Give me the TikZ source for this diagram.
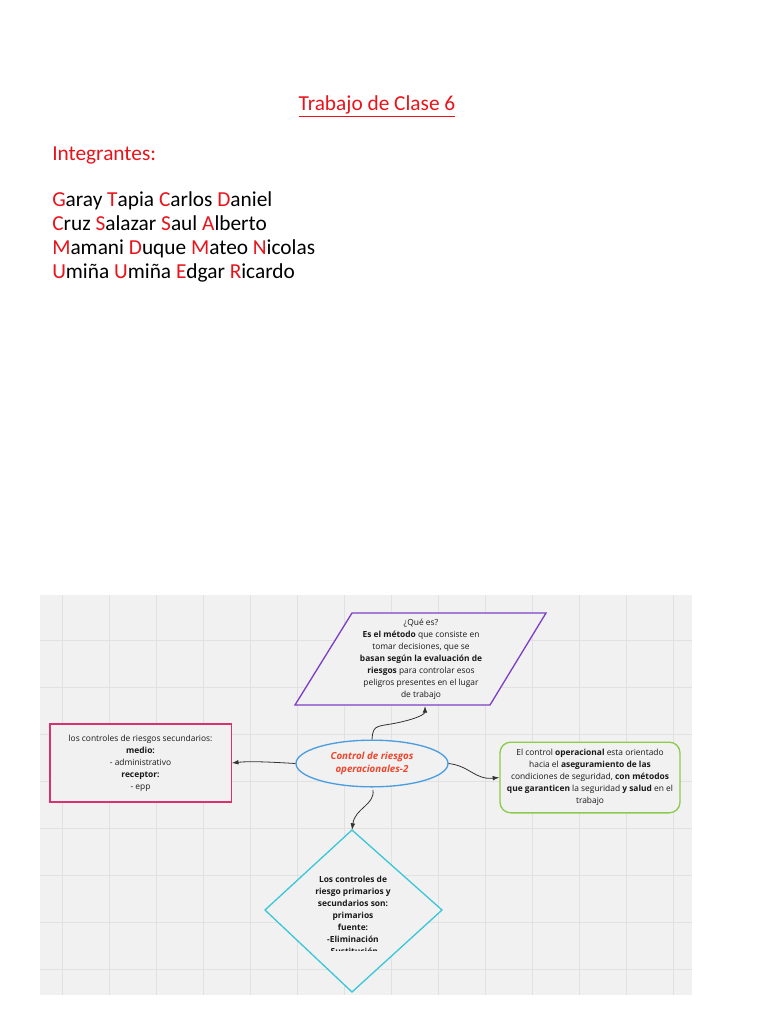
\documentclass[tikz,border=0pt]{standalone}
\usepackage{fontspec}
\setmainfont{Carlito}
\newfontfamily\diag{Open Sans}
\usetikzlibrary{shapes.geometric,arrows.meta}
\definecolor{tred}{HTML}{E8141B}
\definecolor{bgg}{HTML}{F1F1F1}
\definecolor{gridc}{HTML}{E1E1E1}
\definecolor{purp}{HTML}{7E3FC6}
\definecolor{pinkc}{HTML}{D8336E}
\definecolor{greenc}{HTML}{8CCB4E}
\definecolor{bluec}{HTML}{4A9EE0}
\definecolor{cyanc}{HTML}{3CC8D8}
\definecolor{ored}{HTML}{F0452C}
\begin{document}
\begin{tikzpicture}[x=0.75pt,y=-0.75pt,
  dtext/.style={font=\diag\fontsize{6.3}{9}\selectfont, align=center, text=black!90},
  conn/.style={-{Latex[length=5pt,width=3.5pt]}, line width=0.6pt, black!80},
  ttl/.style={font=\fontsize{16}{18}\selectfont, anchor=base west, inner sep=0pt}]
\useasboundingbox (0,0) rectangle (768,1024);
\fill[white] (0,0) rectangle (768,1024);
% title
\node[font=\fontsize{16}{18}\selectfont, text=tred, inner sep=0pt] (title) at (377,106) {\underline{Trabajo de Clase 6}};
\node[ttl, text=tred] (integ) at (52,160) {Integrantes:};
\newcommand{\R}[1]{\textcolor{tred}{#1}}
\node[ttl] (n1) at (52,206) {\R{G}aray \R{T}apia \R{C}arlos \R{D}aniel};
\node[ttl] (n2) at (52,230) {\R{C}ruz \R{S}alazar \R{S}aul \R{A}lberto};
\node[ttl] (n3) at (52,254) {\R{M}amani \R{D}uque \R{M}ateo \R{N}icolas};
\node[ttl] (n4) at (52,278) {\R{U}miña \R{U}miña \R{E}dgar \R{R}icardo};
% diagram background
\fill[bgg] (40,595) rectangle (692,995);
\foreach \x in {62,109,156,203,250,297,344,391,438,485,532,579,626,673}
  \draw[gridc, line width=0.5pt] (\x,595) -- (\x,995);
\foreach \y in {640,687,734,781,828,875,922,969}
  \draw[gridc, line width=0.5pt] (40,\y) -- (692,\y);
% parallelogram
\draw[purp, line width=1pt, fill=bgg] (352,613) -- (546,613) -- (490,705) -- (295,705) -- cycle;
\coordinate (pb) at (425,706);
\node[dtext] (qe) at (421,659) {¿Qué es?\\\textbf{Es el método} que consiste en\\tomar decisiones, que se\\\textbf{basan según la evaluación de}\\\textbf{riesgos} para controlar esos\\peligros presentes en el lugar\\de trabajo};
% pink rect
\node[draw=pinkc, line width=1pt, fill=bgg, minimum width=136pt, minimum height=58.5pt, dtext] (sec) at (140.5,763) {los controles de riesgos secundarios:\\\textbf{medio:}\\- administrativo\\\textbf{receptor:}\\- epp};
% ellipse
\node[draw=bluec, ellipse, line width=1pt, fill=bgg, minimum width=114pt, minimum height=35pt, inner sep=0pt, font=\diag\itshape\bfseries\fontsize{7.3}{10}\selectfont, text=ored, align=center] (ell) at (372,763.5) {Control de riesgos\\operacionales-2};
% green rect
\node[draw=greenc, rounded corners=8pt, line width=1pt, fill=bgg, minimum width=135pt, minimum height=53pt, dtext] (gr) at (590,777.5) {El control \textbf{operacional} esta orientado\\hacia el \textbf{aseguramiento de las}\\condiciones de seguridad, \textbf{con métodos}\\\textbf{que garanticen} la seguridad \textbf{y salud} en el\\trabajo};
% diamond
\draw[cyanc, line width=1pt, fill=bgg] (352,830) coordinate (dt) -- (442,910) -- (352,992) -- (265,910) -- cycle;
\begin{scope}
\clip (260,850) rectangle (445,950);
\node[dtext, anchor=north] (dia) at (353,871) {\textbf{Los controles de}\\\textbf{riesgo primarios y}\\\textbf{secundarios son:}\\\textbf{primarios}\\\textbf{fuente:}\\\textbf{-Eliminación}\\\textbf{-Sustitución}};
\end{scope}
% connectors
\draw[conn] (ell.north) .. controls (373,722) and (378,728) .. (405,721) .. controls (425,716) and (425,712) .. (pb);
\draw[conn] (ell.west) .. controls (270,762) and (250,761) .. (sec.east);
\draw[conn] (ell.east) .. controls (470,766) and (475,780) .. (gr.west);
\draw[conn] (373,790) .. controls (375,805) and (355,808) .. (dt);
\end{tikzpicture}
\end{document}
